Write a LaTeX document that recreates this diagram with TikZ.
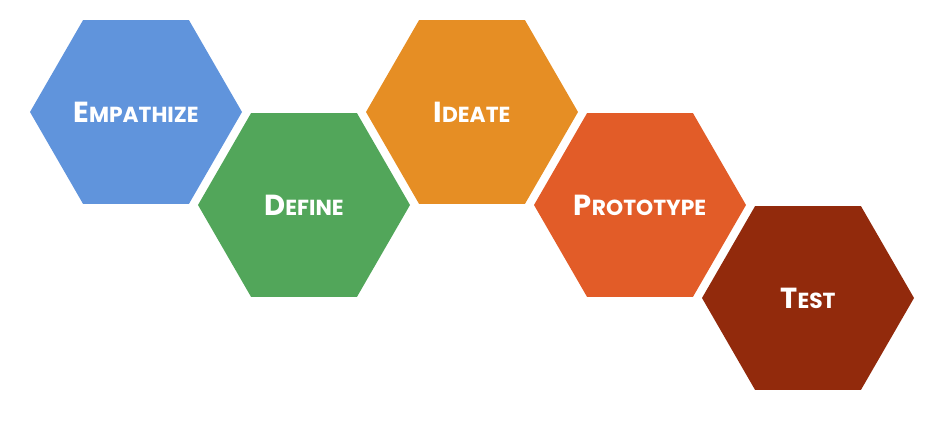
\documentclass[tikz,border=0pt]{standalone}
\usepackage{fontspec}
\setmainfont{Poppins}
\usetikzlibrary{shapes.geometric}
\definecolor{empblue}{RGB}{96,148,220}
\definecolor{defgreen}{RGB}{82,166,90}
\definecolor{ideorange}{RGB}{230,142,36}
\definecolor{protred}{RGB}{226,92,40}
\definecolor{testbrown}{RGB}{146,42,12}
\tikzstyle{phase}=[regular polygon, regular polygon sides=6,
  minimum size=4.24cm, inner sep=0pt, outer sep=0pt, text=white,
  font=\bfseries]
\newcommand{\capword}[2]{\makebox[0pt]{{\fontsize{16.5}{16.5}\selectfont #1}%
  {\fontsize{12.4}{12.4}\selectfont #2}}}
\newcommand{\stage}[4]{node (#1) [phase, fill=#2]
  {\capword{#3}{#4}}}
\begin{document}
\begin{tikzpicture}
  \useasboundingbox (0,0) rectangle (18.94,-8.4);

  % Draw the design thinking phases
  \path (2.72,-2.24) \stage{EMPATHIZE}{empblue}{E}{MPATHIZE};
  \path (EMPATHIZE.center)+(3.36,-1.86) \stage{DEFINE}{defgreen}{D}{EFINE};
  \path (DEFINE.center)+(3.36,1.86) \stage{IDEATE}{ideorange}{I}{DEATE};
  \path (IDEATE.center)+(3.36,-1.86) \stage{PROTOTYPE}{protred}{P}{ROTOTYPE};
  \path (PROTOTYPE.center)+(3.36,-1.86) \stage{TEST}{testbrown}{T}{EST};

\end{tikzpicture}
\end{document}
